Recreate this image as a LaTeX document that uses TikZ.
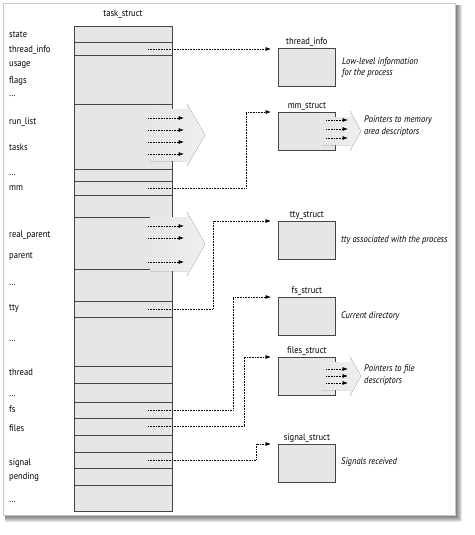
\documentclass[tikz,border=0pt]{standalone}
\usepackage{fontspec}
\setmainfont{PT Sans}[FakeStretch=0.9]
\usetikzlibrary{arrows.meta}
\definecolor{boxgray}{HTML}{E6E6E6}
\definecolor{edgegray}{HTML}{454545}
\definecolor{framegray}{HTML}{C8C8C8}

\tikzset{
  structbox/.style={draw=edgegray, fill=boxgray, line width=0.7pt, minimum width=57pt,
    minimum height=38pt, anchor=north west, inner sep=0pt},
  boxlbl/.style={font=\fontsize{9.5}{11}\selectfont, inner sep=1.5pt},
  fieldlbl/.style={anchor=west, font=\fontsize{9.5}{11}\selectfont, inner sep=0pt},
  note/.style={anchor=west, align=left, font=\fontsize{9.5}{11.5}\selectfont\itshape, inner sep=0pt},
  ptr/.style={densely dotted, line width=0.6pt, -{Latex[length=5.5pt,width=4pt]}},
  fat/.style={left color=boxgray, right color=gray!12}
}

\begin{document}
\begin{tikzpicture}[x=1pt,y=-1pt]
  \useasboundingbox (0,0) rectangle (474,535);
  % frame with shadow
  \foreach \d in {1,...,7}
    \fill[black,opacity=0.1] (5,5) rectangle (455+\d,515+\d);
  \draw[framegray,fill=white,line width=0.6pt] (3,3) rectangle (455,515);

  % task_struct
  \node[font=\fontsize{9.5}{11}\selectfont] (title) at (123,14) {task\_struct};
  \node[draw=edgegray, fill=boxgray, line width=0.7pt, anchor=north west, minimum width=98pt,
    minimum height=485pt, inner sep=0pt] (task) at (74,26) {};
  \foreach \y in {42,55,104,169,181,195,217,269,301,317,366,383,402,418,435,452,468,485}
    \draw[edgegray,line width=0.7pt] (74,\y) -- (172,\y);

  \foreach \y/\t [count=\i] in {35/state, 50/thread\_info, 65/usage, 81/flags, 96/\ldots,
      122/run\_list, 147/tasks, 175/\ldots, 188/mm, 235/real\_parent, 256/parent, 285/\ldots,
      309/tty, 341/\ldots, 372/thread, 396/\ldots, 409/fs, 428/files, 463/signal, 477/pending, 502/\ldots}
    \node[fieldlbl] (f\i) at (9,\y) {\t};

  % fat arrows out of the lists
  \fill[fat] (150,109) -- (187,109) -- (187,104) -- (205,135)
    -- (187,166) -- (187,161) -- (150,161) -- cycle;
  \fill[fat] (150,217) -- (187,217) -- (187,212) -- (205,244)
    -- (187,276) -- (187,271) -- (150,271) -- cycle;
  \foreach \y in {118,130,142,154,226,238,262}
    \draw[ptr] (148,\y) -- (184,\y);

  % pointed-to structures
  \node[structbox, label={[boxlbl]above:thread\_info}] (thrinfo) at (278,48) {};
  \node[structbox, label={[boxlbl]above:mm\_struct}] (mmstr) at (278,112) {};
  \node[structbox, label={[boxlbl]above:tty\_struct}] (ttystr) at (278,221) {};
  \node[structbox, label={[boxlbl]above:fs\_struct}] (fsstr) at (278,297) {};
  \node[structbox, label={[boxlbl]above:files\_struct}] (filesstr) at (278,357) {};
  \node[structbox, label={[boxlbl]above:signal\_struct}] (sigstr) at (278,444) {};

  \fill[fat] (322,117) -- (350,117) -- (350,111) -- (361,131)
    -- (350,151) -- (350,145) -- (322,145) -- cycle;
  \fill[fat] (322,362) -- (350,362) -- (350,357) -- (361,376)
    -- (350,396) -- (350,390) -- (322,390) -- cycle;
  \foreach \y in {120,129,138,369,376,383}
    \draw[ptr] (326,\y) -- (348,\y);

  \node[note] (n1) at (342,67.5) {Low-level information\\for the process};
  \node[note] (n2) at (364,126) {Pointers to memory\\area descriptors};
  \node[note] (n3) at (341,240) {tty associated with the process};
  \node[note] (n4) at (341,316) {Current directory};
  \node[note] (n5) at (364,375) {Pointers to file\\descriptors};
  \node[note] (n6) at (341,462) {Signals received};

  % pointers from the fields
  \coordinate (s-thr) at (148,49);
  \coordinate (s-mm) at (148,188);
  \coordinate (s-tty) at (148,309);
  \coordinate (s-fs) at (148,410);
  \coordinate (s-files) at (148,426);
  \coordinate (s-sig) at (148,460);
  \draw[ptr, shorten >=7pt] (s-thr) -- (s-thr -| thrinfo.north west);
  \draw[ptr, shorten >=7pt] (s-mm) -| ([xshift=-32pt]mmstr.north west) -- (mmstr.north west);
  \draw[ptr, shorten >=7pt] (s-tty) -| ([xshift=-65pt]ttystr.north west) -- (ttystr.north west);
  \draw[ptr, shorten >=7pt] (s-fs) -| ([xshift=-45pt]fsstr.north west) -- (fsstr.north west);
  \draw[ptr, shorten >=7pt] (s-files) -| ([xshift=-34pt]filesstr.north west) -- (filesstr.north west);
  \draw[ptr, shorten >=7pt] (s-sig) -| ([xshift=-22pt]sigstr.north west) -- (sigstr.north west);
\end{tikzpicture}
\end{document}
